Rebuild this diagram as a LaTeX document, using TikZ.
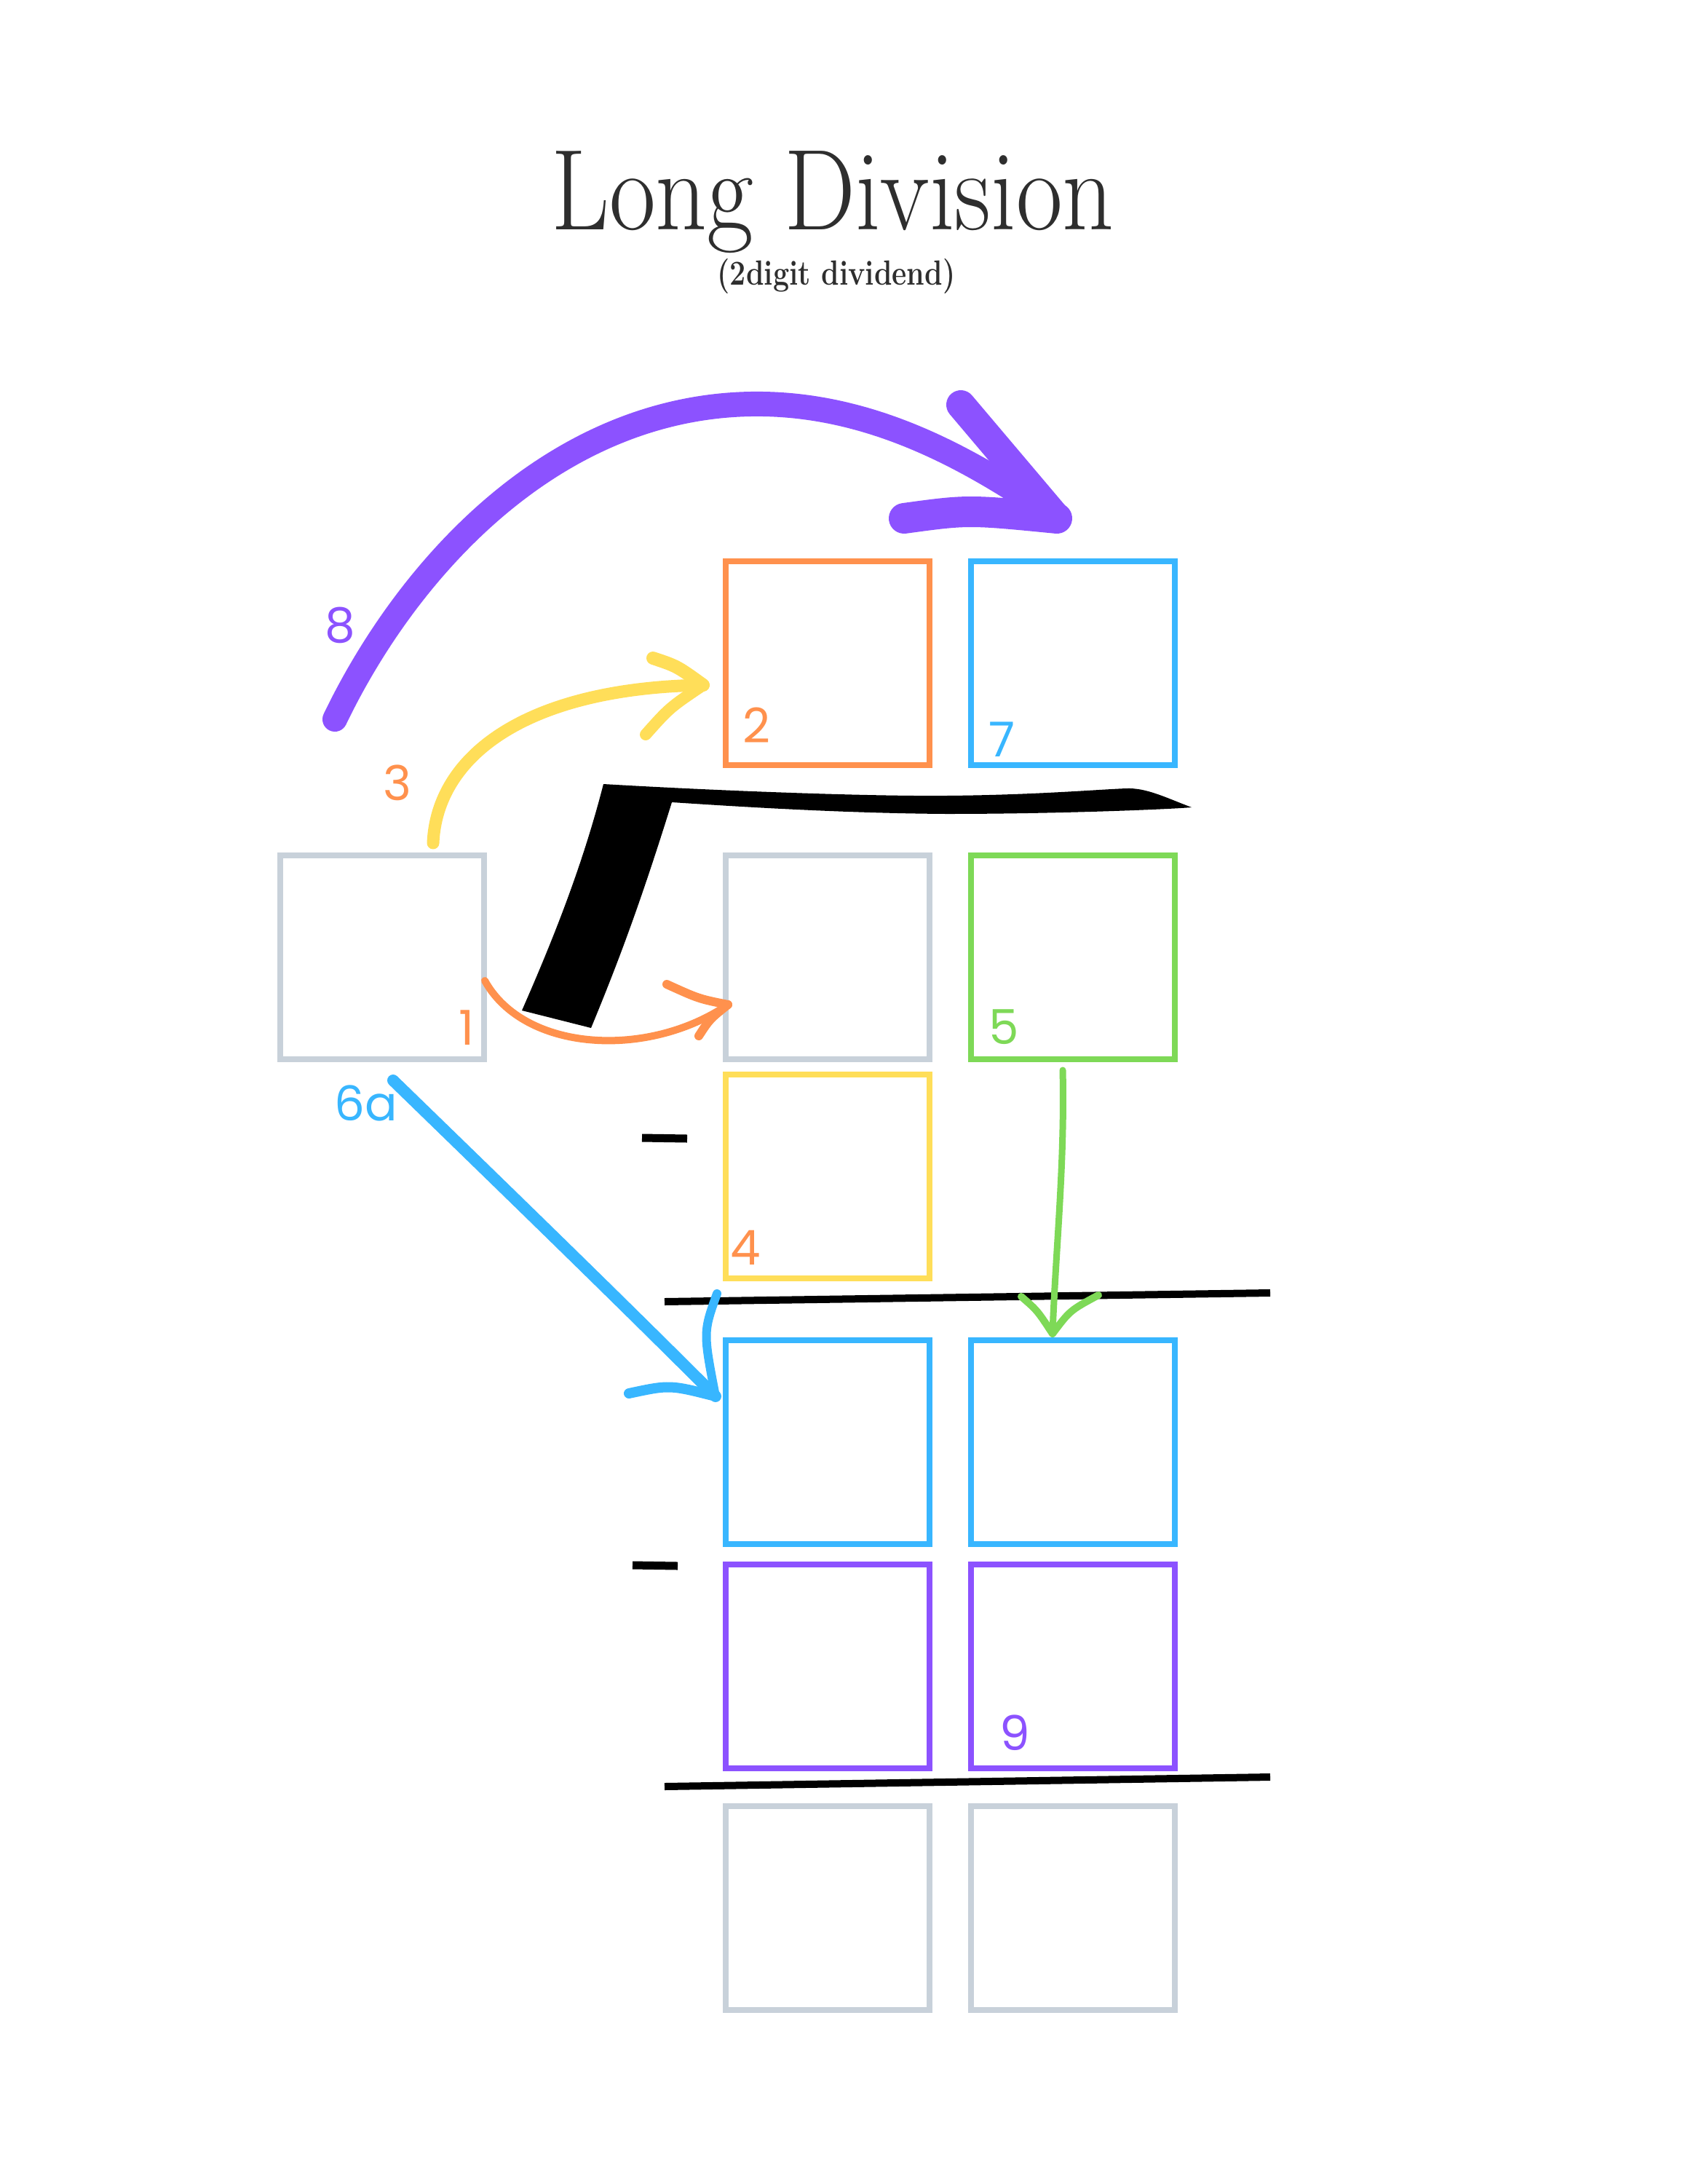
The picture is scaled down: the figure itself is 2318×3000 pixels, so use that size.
\documentclass[tikz,border=0pt]{standalone}
\usepackage{fontspec}
\newfontfamily\labfont{Poppins}
\definecolor{cOrange}{HTML}{FF914D}
\definecolor{cBlue}{HTML}{38B6FF}
\definecolor{cGreen}{HTML}{7ED957}
\definecolor{cYellow}{HTML}{FFDE59}
\definecolor{cPurple}{HTML}{8C52FF}
\definecolor{cGray}{HTML}{C8D1DA}
\definecolor{cTitle}{HTML}{2E2E2E}
\begin{document}
\begin{tikzpicture}[x=1pt,y=-1pt,
  box/.style={draw, line width=8pt, minimum size=280pt, inner sep=0pt, outer sep=0pt},
  lab/.style={inner sep=0pt, font=\labfont\fontsize{66}{66}\selectfont},
  brush/.style={line cap=round, line join=round},
  rule/.style={line width=10pt, black},
  minus/.style={line width=11pt, black}]
\useasboundingbox[fill=white] (0,0) rectangle (2318,3000);

% title
\node[anchor=base, inner sep=0pt, text=cTitle] (title) at (1144,315)
  {\scalebox{0.877}[1]{\fontsize{158}{160}\selectfont Long Division}};
\node[anchor=base, inner sep=0pt, text=cTitle] (subtitle) at (1149,391)
  {\scalebox{0.82}[1]{\fontsize{48}{50}\selectfont\bfseries (2digit dividend)}};

% boxes
\node[box, draw=cGray]   (A)  at (525,1315) {};
\node[box, draw=cOrange] (q1) at (1137,911) {};
\node[box, draw=cBlue]   (q2) at (1474,911) {};
\node[box, draw=cGray]   (d1) at (1137,1315) {};
\node[box, draw=cGreen]  (d2) at (1474,1315) {};
\node[box, draw=cYellow] (s1) at (1137,1615.5) {};
\node[box, draw=cBlue]   (r1) at (1137,1980.5) {};
\node[box, draw=cBlue]   (r2) at (1474,1980.5) {};
\node[box, draw=cPurple] (p1) at (1137,2288.5) {};
\node[box, draw=cPurple] (p2) at (1474,2288.5) {};
\node[box, draw=cGray]   (f1) at (1137,2620.5) {};
\node[box, draw=cGray]   (f2) at (1474,2620.5) {};

% division bracket
\fill[black] (829,1077) .. controls (1000,1087) and (1200,1094) .. (1300,1093)
  .. controls (1420,1092) and (1500,1085) .. (1547,1083)
  .. controls (1575,1082) and (1600,1095) .. (1637,1109)
  .. controls (1600,1112) and (1450,1118) .. (1300,1118)
  .. controls (1150,1117) and (1000,1107) .. (923,1102)
  .. controls (880,1240) and (850,1320) .. (812,1412)
  -- (717,1388)
  .. controls (760,1290) and (800,1190) .. (829,1077) -- cycle;

% minus signs and rules
\draw[minus] (882,1563) -- (944,1564);
\draw[minus] (869,2150) -- (931,2151);
\draw[rule] (913,1788) -- (1745,1776);
\draw[rule] (913,2454) -- (1745,2441);

% named end points
\coordinate (pS) at (460,988);
\coordinate (pT) at (1452,712);
\coordinate (pU) at (1320,556);
\coordinate (pL) at (1242,712);
\coordinate (yS) at (595,1158);
\coordinate (yT) at (966,941);
\coordinate (yU) at (897,904);
\coordinate (yL) at (887,1009);
\coordinate (oS) at (666,1347);
\coordinate (oT) at (1000,1380);
\coordinate (oU) at (916,1352);
\coordinate (oL) at (960,1423);
\coordinate (bS) at (540,1484);
\coordinate (bT) at (983,1918);
\coordinate (bU) at (985,1777);
\coordinate (bL) at (864,1914);
\coordinate (gS) at (1460,1470);
\coordinate (gT) at (1446,1832);
\coordinate (gU) at (1403,1781);
\coordinate (gL) at (1509,1779);

% purple arrow (8)
\draw[brush, cPurple, line width=34pt] (pS) .. controls (560,780) and (760,560) .. (1031,555)
  .. controls (1200,552) and (1340,635) .. (pT);
\draw[brush, cPurple, line width=40pt] (pU) -- (pT);
\draw[brush, cPurple, line width=42pt] (pL) .. controls (1330,700) .. (pT);

% yellow arrow (3)
\draw[brush, cYellow, line width=17pt] (yS) .. controls (600,1040) and (720,945) .. (yT);
\draw[brush, cYellow, line width=18pt] (yU) .. controls (930,915) .. (yT);
\draw[brush, cYellow, line width=16pt] (yL) .. controls (920,972) .. (yT);

% orange arrow (1)
\draw[brush, cOrange, line width=10pt] (oS) .. controls (720,1445) and (890,1455) .. (oT);
\draw[brush, cOrange, line width=12pt] (oU) .. controls (960,1372) .. (oT);
\draw[brush, cOrange, line width=12pt] (oL) .. controls (975,1400) .. (oT);

% blue arrow (6a)
\draw[brush, cBlue, line width=16pt] (bS) .. controls (680,1620) and (840,1775) .. (bT);
\draw[brush, cBlue, line width=14pt] (bL) .. controls (920,1902) .. (bT);
\draw[brush, cBlue, line width=12pt] (bU) .. controls (966,1830) .. (bT);

% green arrow (5)
\draw[brush, cGreen, line width=9pt] (gS) .. controls (1463,1600) and (1450,1720) .. (gT);
\draw[brush, cGreen, line width=10pt] (gU) .. controls (1425,1800) .. (gT);
\draw[brush, cGreen, line width=10pt] (gL) .. controls (1470,1800) .. (gT);

% step labels
\node[lab, text=cPurple] (l8) at (467,859) {8};
\node[lab, text=cOrange] (l3) at (546,1075) {3};
\node[lab, text=cOrange] (l2) at (1039,996) {2};
\node[lab, text=cBlue]   (l7) at (1376,1016) {7};
\node[lab, text=cOrange] (l1) at (641,1412) {1};
\node[lab, text=cGreen]  (l5) at (1379,1411) {5};
\node[lab, text=cBlue]   (l6) at (503,1515) {6a};
\node[lab, text=cOrange] (l4) at (1024,1714) {4};
\node[lab, text=cPurple] (l9) at (1394,2380) {9};
\end{tikzpicture}
\end{document}
